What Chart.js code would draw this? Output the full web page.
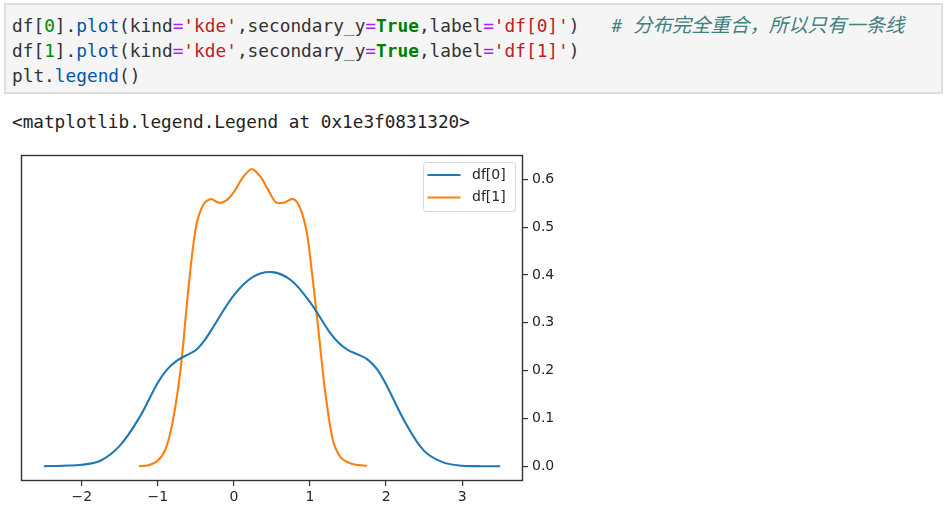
<!DOCTYPE html>
<html>
<head>
<meta charset="utf-8">
<script src="https://cdn.jsdelivr.net/npm/chart.js@4.4.1/dist/chart.umd.min.js"></script>
<style>
  html, body { margin:0; padding:0; background:#fff; width:944px; height:519px; overflow:hidden; }
  .cell { position:absolute; left:4px; top:3px; width:935px; height:87px; background:#f5f5f5; border:2px solid #dedede; box-sizing:content-box; }
  .code { position:absolute; left:12px; top:11px; font-family:"DejaVu Sans Mono", "Liberation Mono", monospace; font-size:17.8px; line-height:25px; color:#333; white-space:pre; }
  .num { color:#008800; }
  .prop { color:#0055aa; }
  .op { color:#aa22ff; }
  .str { color:#ba2121; }
  .kw { color:#008000; font-weight:bold; }
  .cm { color:#408080; font-style:italic; }
  .cjk { font-family:"Noto Sans CJK SC", sans-serif; font-size:19.4px; font-style:italic; }
  .out { position:absolute; left:12px; top:110px; font-family:"DejaVu Sans Mono", "Liberation Mono", monospace; font-size:17.7px; line-height:25px; color:#222; white-space:pre; }
  #wrap { position:absolute; left:0; top:140px; width:580px; height:379px; }
</style>
</head>
<body>
<div class="cell"></div>
<div class="code">df[<span class="num">0</span>].<span class="prop">plot</span>(kind<span class="op">=</span><span class="str">'kde'</span>,secondary_y<span class="op">=</span><span class="kw">True</span>,label<span class="op">=</span><span class="str">'df[0]'</span>)   <span class="cm">#</span> <span class="cm cjk">分布完全重合，所以只有一条线</span>
df[<span class="num">1</span>].<span class="prop">plot</span>(kind<span class="op">=</span><span class="str">'kde'</span>,secondary_y<span class="op">=</span><span class="kw">True</span>,label<span class="op">=</span><span class="str">'df[1]'</span>)
plt.<span class="prop">legend</span>()</div>
<div class="out">&lt;matplotlib.legend.Legend at 0x1e3f0831320&gt;</div>
<div id="wrap"><canvas id="c" width="580" height="379" style="width:580px;height:379px"></canvas></div>
<script>
// ---- data ----
const seriesLabels = ['df[0]', 'df[1]'];
const seriesColors = ['#1f77b4', '#ff7f0e'];

const blueX = [-2.5, -2.25, -2.0, -1.75, -1.5, -1.25, -1.0, -0.875, -0.75, -0.625, -0.5, -0.375, -0.25, 0.0, 0.25, 0.5, 0.75, 1.0, 1.25, 1.375, 1.5, 1.625, 1.75, 1.875, 2.0, 2.25, 2.5, 2.75, 3.0, 3.25, 3.5];
const blueY = [0.000, 0.001, 0.003, 0.012, 0.043, 0.100, 0.175, 0.203, 0.221, 0.232, 0.243, 0.266, 0.297, 0.358, 0.396, 0.406, 0.389, 0.343, 0.282, 0.258, 0.243, 0.234, 0.224, 0.204, 0.171, 0.092, 0.032, 0.008, 0.001, 0.000, 0.000];

const orangeX = [-1.25, -1.125, -1.0, -0.9, -0.8, -0.7, -0.6, -0.5, -0.4, -0.3, -0.2, -0.1, 0.0, 0.1, 0.2, 0.25, 0.35, 0.45, 0.55, 0.65, 0.78, 0.87, 0.95, 1.0, 1.1, 1.2, 1.3, 1.4, 1.5, 1.6, 1.75];
const orangeY = [0.000, 0.002, 0.012, 0.035, 0.098, 0.205, 0.370, 0.500, 0.548, 0.559, 0.551, 0.556, 0.574, 0.600, 0.619, 0.621, 0.605, 0.578, 0.552, 0.551, 0.559, 0.540, 0.495, 0.440, 0.300, 0.155, 0.055, 0.019, 0.008, 0.003, 0.001];

const xTicks = [-2, -1, 0, 1, 2, 3];
const yTicks = [0.0, 0.1, 0.2, 0.3, 0.4, 0.5, 0.6];
const xMin = -2.8, xMax = 3.8;
const yMin = -0.031, yMax = 0.651;

// ---- chart ----
const tickFont = { family: '"DejaVu Sans", sans-serif', size: 14 };
const txtColor = '#262626';
const axisColor = '#333333';

function toPoints(xs, ys) { return xs.map((x, i) => ({ x: x, y: ys[i] })); }
function fmtX(v) { const s = String(v); return v < 0 ? '\u2212' + s.slice(1) : s; }

const framePlugin = {
  id: 'frame',
  afterDatasetsDraw(chart) {
    const a = chart.chartArea, ctx = chart.ctx;
    ctx.save();
    ctx.strokeStyle = axisColor;
    ctx.lineWidth = 1.4;
    ctx.strokeRect(Math.round(a.left) + 0.5, Math.round(a.top) + 0.5, Math.round(a.right - a.left) - 1, Math.round(a.bottom - a.top) - 1);
    ctx.restore();
  }
};

const legendPlugin = {
  id: 'mplLegend',
  afterDraw(chart) {
    const a = chart.chartArea, ctx = chart.ctx;
    const w = 92, h = 49;
    const x0 = a.right - 7.5 - w, y0 = a.top + 7.5;
    ctx.save();
    ctx.beginPath();
    const r = 3;
    ctx.moveTo(x0 + r, y0);
    ctx.lineTo(x0 + w - r, y0); ctx.quadraticCurveTo(x0 + w, y0, x0 + w, y0 + r);
    ctx.lineTo(x0 + w, y0 + h - r); ctx.quadraticCurveTo(x0 + w, y0 + h, x0 + w - r, y0 + h);
    ctx.lineTo(x0 + r, y0 + h); ctx.quadraticCurveTo(x0, y0 + h, x0, y0 + h - r);
    ctx.lineTo(x0, y0 + r); ctx.quadraticCurveTo(x0, y0, x0 + r, y0);
    ctx.closePath();
    ctx.fillStyle = 'rgba(255,255,255,0.8)';
    ctx.fill();
    ctx.strokeStyle = '#d6d6d6';
    ctx.lineWidth = 1;
    ctx.stroke();
    chart.data.datasets.forEach((ds, i) => {
      const yy = y0 + 12.5 + i * 22.5;
      ctx.beginPath();
      ctx.strokeStyle = ds.borderColor;
      ctx.lineWidth = 2;
      ctx.moveTo(x0 + 4, yy); ctx.lineTo(x0 + 37, yy);
      ctx.stroke();
      ctx.fillStyle = txtColor;
      ctx.font = '14px "DejaVu Sans", sans-serif';
      ctx.textBaseline = 'middle';
      ctx.textAlign = 'left';
      ctx.fillText(ds.label, x0 + 48.5, yy);
    });
    ctx.restore();
  }
};

new Chart(document.getElementById('c'), {
  type: 'scatter',
  data: {
    datasets: [
      { label: seriesLabels[0], data: toPoints(blueX, blueY), borderColor: seriesColors[0], backgroundColor: seriesColors[0], showLine: true, pointRadius: 0, borderWidth: 2.1, tension: 0.35 },
      { label: seriesLabels[1], data: toPoints(orangeX, orangeY), borderColor: seriesColors[1], backgroundColor: seriesColors[1], showLine: true, pointRadius: 0, borderWidth: 2.1, tension: 0.3 }
    ]
  },
  options: {
    responsive: false,
    animation: false,
    events: [],
    layout: { padding: { left: 21, top: 15, right: 12, bottom: 6 } },
    plugins: { legend: { display: false }, tooltip: { enabled: false } },
    scales: {
      x: {
        type: 'linear', position: 'bottom', min: xMin, max: xMax,
        afterBuildTicks: s => { s.ticks = xTicks.map(v => ({ value: v })); },
        afterFit: s => { s.height = 32; },
        ticks: { font: tickFont, color: txtColor, padding: 3, maxRotation: 0, callback: v => fmtX(v) },
        grid: { display: true, drawOnChartArea: false, drawTicks: true, tickLength: 5, color: axisColor, lineWidth: 1.2 },
        border: { display: false }
      },
      y: {
        type: 'linear', position: 'right', min: yMin, max: yMax,
        afterBuildTicks: s => { s.ticks = yTicks.map(v => ({ value: v })); },
        afterFit: s => { s.width = 45; },
        ticks: { font: tickFont, color: txtColor, padding: 4, callback: v => Number(v).toFixed(1) },
        grid: { display: true, drawOnChartArea: false, drawTicks: true, tickLength: 5, color: axisColor, lineWidth: 1.2 },
        border: { display: false }
      }
    }
  },
  plugins: [framePlugin, legendPlugin]
});
</script>
</body>
</html>
